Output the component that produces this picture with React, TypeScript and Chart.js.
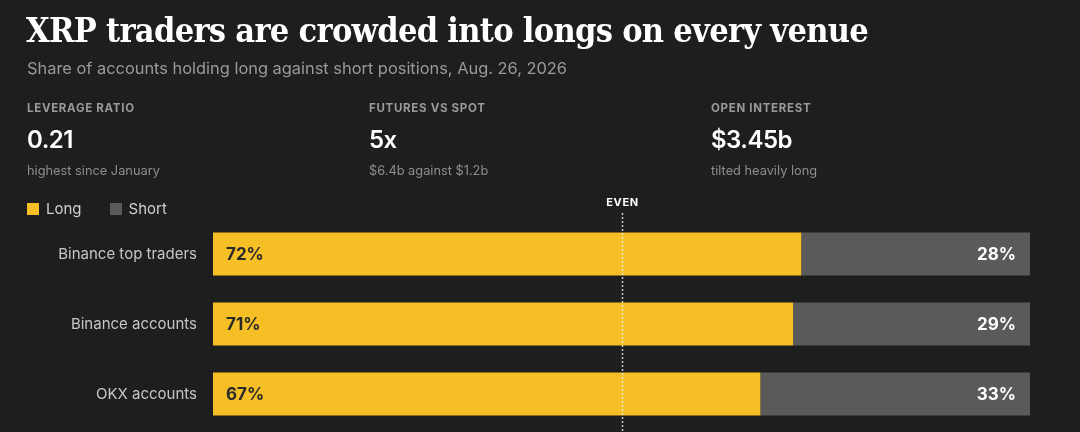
import React, { useEffect, useRef } from "react";
import { Chart, registerables } from "chart.js";

Chart.register(...registerables);

const categories = ["Binance top traders", "Binance accounts", "OKX accounts"];
const longValues = [72, 71, 67];
const shortValues = [28, 29, 33];
const seriesNames = ["Long", "Short"];
const evenValue = 50;

const kpiLabels = ["LEVERAGE RATIO", "FUTURES VS SPOT", "OPEN INTEREST"];
const kpiValues = ["0.21", "5x", "$3.45b"];
const kpiNotes = ["highest since January", "$6.4b against $1.2b", "tilted heavily long"];

const TITLE = "XRP traders are crowded into longs on every venue";
const SUBTITLE = "Share of accounts holding long against short positions, Aug. 26, 2026";

const BG = "#1e1e1e";
const YELLOW = "#f5bf25";
const GREY = "#5a5a5a";
const SANS = "Inter, 'Noto Sans', sans-serif";

const labelPlugin = {
  id: "barLabels",
  afterDatasetsDraw(chart: any) {
    const ctx = chart.ctx;
    const xs = chart.scales.x;
    const area = chart.chartArea;
    const m0 = chart.getDatasetMeta(0);
    const m1 = chart.getDatasetMeta(1);
    ctx.save();
    ctx.font = `700 17px ${SANS}`;
    ctx.textBaseline = "middle";
    m0.data.forEach((bar: any, i: number) => {
      ctx.fillStyle = "#2a2a2a";
      ctx.textAlign = "left";
      ctx.fillText(`${longValues[i]}%`, bar.base + 13, bar.y + 1);
    });
    m1.data.forEach((bar: any, i: number) => {
      ctx.fillStyle = "#ffffff";
      ctx.textAlign = "right";
      ctx.fillText(`${shortValues[i]}%`, bar.x - 14, bar.y + 1);
    });
    const ex = Math.round(xs.getPixelForValue(evenValue)) + 0.5;
    ctx.strokeStyle = "rgba(235,235,235,0.85)";
    ctx.lineWidth = 1.5;
    ctx.setLineDash([2, 2]);
    ctx.beginPath();
    ctx.moveTo(ex, area.top - 6);
    ctx.lineTo(ex, chart.height);
    ctx.stroke();
    ctx.setLineDash([]);
    ctx.fillStyle = "#ffffff";
    ctx.font = `700 11px ${SANS}`;
    (ctx as any).letterSpacing = "0.6px";
    ctx.textAlign = "center";
    ctx.textBaseline = "alphabetic";
    ctx.fillText("EVEN", ex, area.top - 13);
    ctx.restore();
  },
};

function BarChart() {
  const ref = useRef<HTMLCanvasElement | null>(null);
  useEffect(() => {
    if (!ref.current) return;
    const chart = new Chart(ref.current, {
      type: "bar",
      data: {
        labels: categories,
        datasets: [
          { label: seriesNames[0], data: longValues, backgroundColor: YELLOW, borderWidth: 0 },
          { label: seriesNames[1], data: shortValues, backgroundColor: GREY, borderWidth: 0 },
        ],
      },
      options: {
        indexAxis: "y",
        animation: false,
        responsive: false,
        maintainAspectRatio: false,
        layout: { padding: { top: 219, bottom: 3, left: 0, right: 50 } },
        datasets: { bar: { barPercentage: 0.615, categoryPercentage: 1 } },
        plugins: { legend: { display: false }, tooltip: { enabled: false } },
        scales: {
          x: { stacked: true, min: 0, max: 100, display: false },
          y: {
            stacked: true,
            grid: { display: false, drawTicks: false },
            border: { display: false },
            ticks: { color: "#c6c6c6", font: { family: SANS, size: 15 }, padding: 16 },
            afterFit: (s: any) => {
              s.width = 213;
              s.paddingTop = 0;
              s.paddingBottom = 0;
            },
          },
        },
      },
      plugins: [labelPlugin],
    } as any);
    return () => chart.destroy();
  }, []);
  return (
    <canvas
      ref={ref}
      width={1080}
      height={432}
      style={{ position: "absolute", left: 0, top: 0, width: 1080, height: 432 }}
    />
  );
}

export default function App() {
  const kpiX = [27, 369, 711];
  return (
    <div
      style={{
        position: "fixed",
        left: 0,
        top: 0,
        width: 1080,
        height: 432,
        background: BG,
        overflow: "hidden",
        fontFamily: SANS,
      }}
    >
      <BarChart />
      <div
        style={{
          position: "absolute",
          left: 26,
          top: 9,
          fontFamily: "'DejaVu Serif', serif",
          fontStretch: "condensed",
          fontWeight: 700,
          fontSize: 34,
          letterSpacing: "-0.7px",
          color: "#ffffff",
          whiteSpace: "nowrap",
          lineHeight: "42px",
        }}
      >
        {TITLE}
      </div>
      <div
        style={{
          position: "absolute",
          left: 27,
          top: 57,
          fontSize: 16.4,
          color: "#9a9a9a",
          whiteSpace: "nowrap",
          lineHeight: "22px",
        }}
      >
        {SUBTITLE}
      </div>
      {kpiLabels.map((lab, i) => (
        <div key={lab} style={{ position: "absolute", left: kpiX[i], top: 100 }}>
          <div
            style={{
              fontSize: 11.5,
              fontWeight: 700,
              letterSpacing: "0.7px",
              color: "#9a9a9a",
              lineHeight: "16px",
              whiteSpace: "nowrap",
            }}
          >
            {lab}
          </div>
          <div
            style={{
              position: "absolute",
              top: 25,
              fontSize: 24,
              fontWeight: 600,
              letterSpacing: "-0.5px",
              color: "#ffffff",
              lineHeight: "30px",
              whiteSpace: "nowrap",
            }}
          >
            {kpiValues[i]}
          </div>
          <div
            style={{
              position: "absolute",
              top: 62,
              fontSize: 12.8,
              color: "#8e8e8e",
              lineHeight: "18px",
              whiteSpace: "nowrap",
            }}
          >
            {kpiNotes[i]}
          </div>
        </div>
      ))}
      <div
        style={{
          position: "absolute",
          left: 27,
          top: 199,
          display: "flex",
          alignItems: "center",
          fontSize: 15,
          color: "#cfcfcf",
          lineHeight: "20px",
        }}
      >
        <span style={{ width: 12, height: 12, background: YELLOW, display: "inline-block" }} />
        <span style={{ marginLeft: 7 }}>{seriesNames[0]}</span>
        <span
          style={{ width: 12, height: 12, background: GREY, display: "inline-block", marginLeft: 28 }}
        />
        <span style={{ marginLeft: 7 }}>{seriesNames[1]}</span>
      </div>
    </div>
  );
}
